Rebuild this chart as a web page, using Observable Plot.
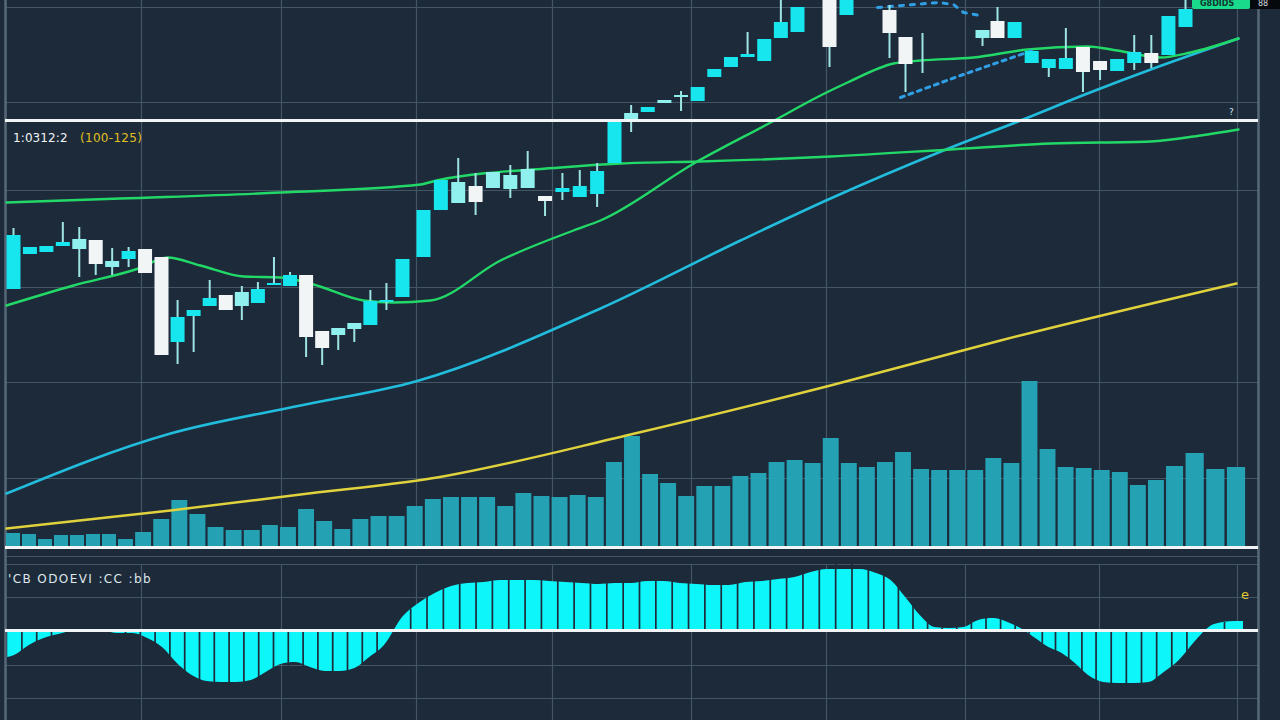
<!DOCTYPE html>
<html><head><meta charset="utf-8">
<script src="https://cdn.jsdelivr.net/npm/d3@7"></script>
<script src="https://cdn.jsdelivr.net/npm/@observablehq/plot@0.6"></script>
<style>
html,body{margin:0;padding:0;background:#1d2a3a;overflow:hidden}
#chart{position:relative;width:1280px;height:720px;overflow:hidden}
#chart svg{position:absolute;left:0;top:0;background:transparent}
.lab{position:absolute;font-family:"DejaVu Sans",sans-serif;white-space:nowrap;line-height:1}
</style></head><body><div id="chart"></div>
<script>
// Candles: session number, open, close, high, low
const session=[0,1,2,3,4,5,6,7,8,9,10,11,12,13,14,15,16,17,18,19,20,21,22,23,24,25,26,27,28,29,30,31,32,33,34,35,36,37,38,39,40,41,42,43,44,45,46,47,49,50,52,53,54,58,59,60,61,62,63,64,65,66,67,68,69,70];
const open =[431,466,468,474,471,480,453,461,471,463,378,404,414,425,414,417,435,434,445,389,385,391,395,418,423,463,510,538,534,532,531,532,524,528,523,526,557,601,608,617,623,619,643,653,663,659,682,688,720,705,710,683,648,682,699,682,657,652,651,673,659,649,657,667,665,693];
const close=[485,473,474,478,481,456,459,469,447,365,403,410,422,410,428,431,437,445,383,372,392,397,419,420,461,510,540,517,518,548,545,551,519,532,534,549,599,607,613,620,625,633,651,663,666,681,698,713,673,720,687,656,648,690,682,698,669,661,662,648,650,661,668,657,704,711];
const high =[492,473,474,498,493,480,472,473,471,463,420,410,440,425,434,438,463,448,445,389,392,397,430,437,461,510,540,562,547,548,555,569,524,547,550,557,599,615,613,620,629,633,651,663,688,681,720,713,720,720,715,683,687,690,713,698,669,661,692,673,659,661,685,685,704,720];
const low  =[431,466,468,474,443,445,445,453,447,365,356,368,414,410,400,417,435,434,363,355,370,378,395,410,423,463,510,517,505,532,522,532,504,520,523,513,557,588,608,617,609,619,643,653,663,659,682,688,653,705,662,628,647,674,682,682,657,643,651,628,640,649,650,652,665,693];
const softSessions=[4,6,14,20,21,27,29,30,31,37,39,40,58];

// Moving averages: [session-time, price]
const maLongT =[6,120,280,420,436,560,620,700,830,950,1050,1150,1200,1238];
const maLongV =[518,522,528,536,540,553,557,559,564,571,577,579,585,591];
const maShortT=[6,73,138,167,200,243,280,313,363,393,430,500,573,600,695,772,820,847,893,920,973,1027,1087,1117,1160,1190,1238];
const maShortV=[415,435,452,463,455,444,443,436,420,418,420,460,490,500,558,599,625,638,657,660,663,671,674,670,663,668,682];
const maMidT  =[6,170,300,415,600,740,830,943,1020,1087,1153,1238];
const maMidV  =[227,287,315,339,412,480,522,570,600,627,652,682];
const maSlowT =[6,170,300,430,630,830,1000,1236];
const maSlowV =[192,210,226,242,286,335,380,437];
const dots1T=[900,960,1032]; const dots1V=[623,645,670];
const dots2T=[877,938,953,963,980]; const dots2V=[713,718,716,708,705];

// Volume
const volume=[14,13,8,12,12,13,13,8,15,28,47,33,20,17,17,22,20,38,26,18,28,31,31,41,48,50,50,50,41,54,51,50,52,50,85,111,73,64,51,61,61,71,74,85,87,84,109,84,80,85,95,78,77,77,77,89,84,166,98,80,79,77,75,62,67,81,94,78,80];

// Oscillator
const osc=[-25,-15,-8,-4,-1,-1,-1,-3,-3,-8,-17,-33,-45,-51,-52,-52,-50,-42,-34,-32,-37,-41,-41,-38,-27,-15,13,27,37,44,47,48,50,50,50,49,48,47,46,47,47,49,49,47,46,45,45,48,49,51,53,58,61,61,61,57,50,33,15,3,2,3,10,12,8,1,-8,-17,-23,-33,-45,-52,-53,-53,-52,-42,-30,-12,6,9];

// Grid
const gridT=[141,281,416,552,691,826,965,1099,1237];
const gridP=[713,618,530,433,338,242];
const gridLowP=[164,156,123,55,22];

const BG="#1d2a3a", GRID="#435665", WHITE="#f2f5f5", CYAN="#17e6ee", SOFT="#8ff0ee", WICK="#9fe4e4", OSC="#0df6fa";
const W=1280,H=720;
const root=document.getElementById("chart");
const base={width:W,height:H,margin:0,style:{background:"transparent"}};

const timeScale=(from,to)=>({domain:[0,W],range:[0,W],axis:null,transform:d3.scaleLinear(from,to)});
const idT={domain:[0,W],range:[0,W],axis:null};
const priceY={domain:[0,H],range:[H,0],axis:null};

const pts=(t,v)=>t.map((x,i)=>({t:x,v:v[i]}));
const candles=session.map((s,i)=>({s,o:open[i],c:close[i],h:high[i],l:low[i]}));
const fillOf=d=>softSessions.includes(d.s)?SOFT:(d.c>d.o?CYAN:WHITE);

// layer 1: grid
root.append(Plot.plot({...base,x:idT,y:priceY,marks:[
  Plot.ruleY(gridP,{x1:6,x2:1258,stroke:GRID,strokeWidth:1.2}),
  Plot.ruleY(gridLowP,{x1:6,x2:1258,stroke:GRID,strokeWidth:1.2}),
  Plot.ruleX(gridT,{y1:172,y2:720,stroke:GRID,strokeWidth:1.2}),
  Plot.ruleX(gridT,{y1:0,y2:156,stroke:GRID,strokeWidth:1.2}),
  Plot.ruleX([5,1258],{y1:0,y2:720,stroke:"#566878",strokeWidth:2.5})
]}));

// layer 2: volume
const volIdx=volume.map((v,i)=>({i,v}));
root.append(Plot.plot({...base,
  x:timeScale([0,7,35,65,68],[13,125,632,1174,1236]),
  y:{domain:[0,547],range:[547,0],axis:null},
  marks:[Plot.rect(volIdx,{x1:d=>d.i-.44,x2:d=>d.i+.44,y1:0,y2:"v",fill:"#26a8ba",fillOpacity:.95})]}));

// layer 3: oscillator, a smooth silhouette cut by thin slits between the bars
const oscIdx=osc.map((v,i)=>({i,v}));
const oscEdge=[{i:-.45,v:osc[0]-2},...oscIdx,{i:osc.length-1+.45,v:osc[osc.length-1]}];
const slits=osc.slice(0,-1).map((v,i)=>({i:i+.5,v:(v+osc[i+1])/2}));
root.append(Plot.plot({...base,
  x:timeScale([-1,0,25,26,55,65,70,77,79,80],[-1,14,384,402,876,1022,1088,1194,1234,1254]),
  y:{domain:[-90,630],range:[720,0],axis:null},
  marks:[
    Plot.areaY(oscEdge,{x:"i",y1:0,y2:"v",fill:OSC,curve:"monotone-x"}),
    Plot.ruleX(slits,{x:"i",y1:0,y2:d=>d.v*1.08,stroke:BG,strokeWidth:1.7})
  ]}));

// layer 4: moving averages
root.append(Plot.plot({...base,x:idT,y:priceY,marks:[
  Plot.line(pts(maSlowT,maSlowV),{x:"t",y:"v",stroke:"#e0d23c",strokeWidth:2.4,curve:"monotone-x"}),
  Plot.line(pts(maMidT,maMidV),{x:"t",y:"v",stroke:"#22bcdc",strokeWidth:2.6,curve:"monotone-x"}),
  Plot.line(pts(maLongT,maLongV),{x:"t",y:"v",stroke:"#22d968",strokeWidth:2.4,curve:"monotone-x"}),
  Plot.line(pts(maShortT,maShortV),{x:"t",y:"v",stroke:"#22d968",strokeWidth:2.4,curve:"monotone-x"}),
  Plot.line(pts(dots1T,dots1V),{x:"t",y:"v",stroke:"#2f9fe6",strokeWidth:3,strokeDasharray:"4 5"}),
  Plot.line(pts(dots2T,dots2V),{x:"t",y:"v",stroke:"#2f9fe6",strokeWidth:3,strokeDasharray:"4 7"})
]}));

// layer 5: candles and the pane separators
root.append(Plot.plot({...base,
  x:timeScale([-1,0,9,24,25,36,47,49,50,52,53,54,58,59,70,75],[5,13,161,402,423,614,797,829,846,889,905,922,982,997,1185,1258]),
  y:priceY,
  marks:[
    Plot.ruleX(candles,{x:"s",y1:"l",y2:"h",stroke:WICK,strokeWidth:2}),
    Plot.ruleX(candles,{x:"s",y1:"o",y2:"c",stroke:fillOf,strokeWidth:14}),
    Plot.ruleY([600,173,90],{x1:-1,x2:75,stroke:WHITE,strokeWidth:3})
  ]}));

// labels
const label=(txt,l,t,size,color,extra="")=>{const e=document.createElement("div");e.className="lab";e.textContent=txt;
  e.style.cssText=`left:${l}px;top:${t}px;font-size:${size}px;color:${color};${extra}`;root.append(e);};
label("1:0312:2",13,132,12,"#f2f5f5","letter-spacing:.1px");
label("(100-125)",80,132,12,"#e0c020","letter-spacing:.3px");
label("'CB ODOEVI :CC :bb",8,573,12,"#dfe8ea","letter-spacing:1.4px");
label("G8DIDS",1192,0,8,"#12352e","background:#19d98a;padding:0 8px 1px;width:42px;height:8px;border-radius:0 0 2px 2px;font-weight:bold");
label("88",1250,0,8,"#d5dde0","background:#05090c;padding:0 10px 1px 8px;width:12px;height:8px");
label("e",1241,588,13,"#e0c830");
label("?",1229,108,9,"#cfe6ee");
</script></body></html>
